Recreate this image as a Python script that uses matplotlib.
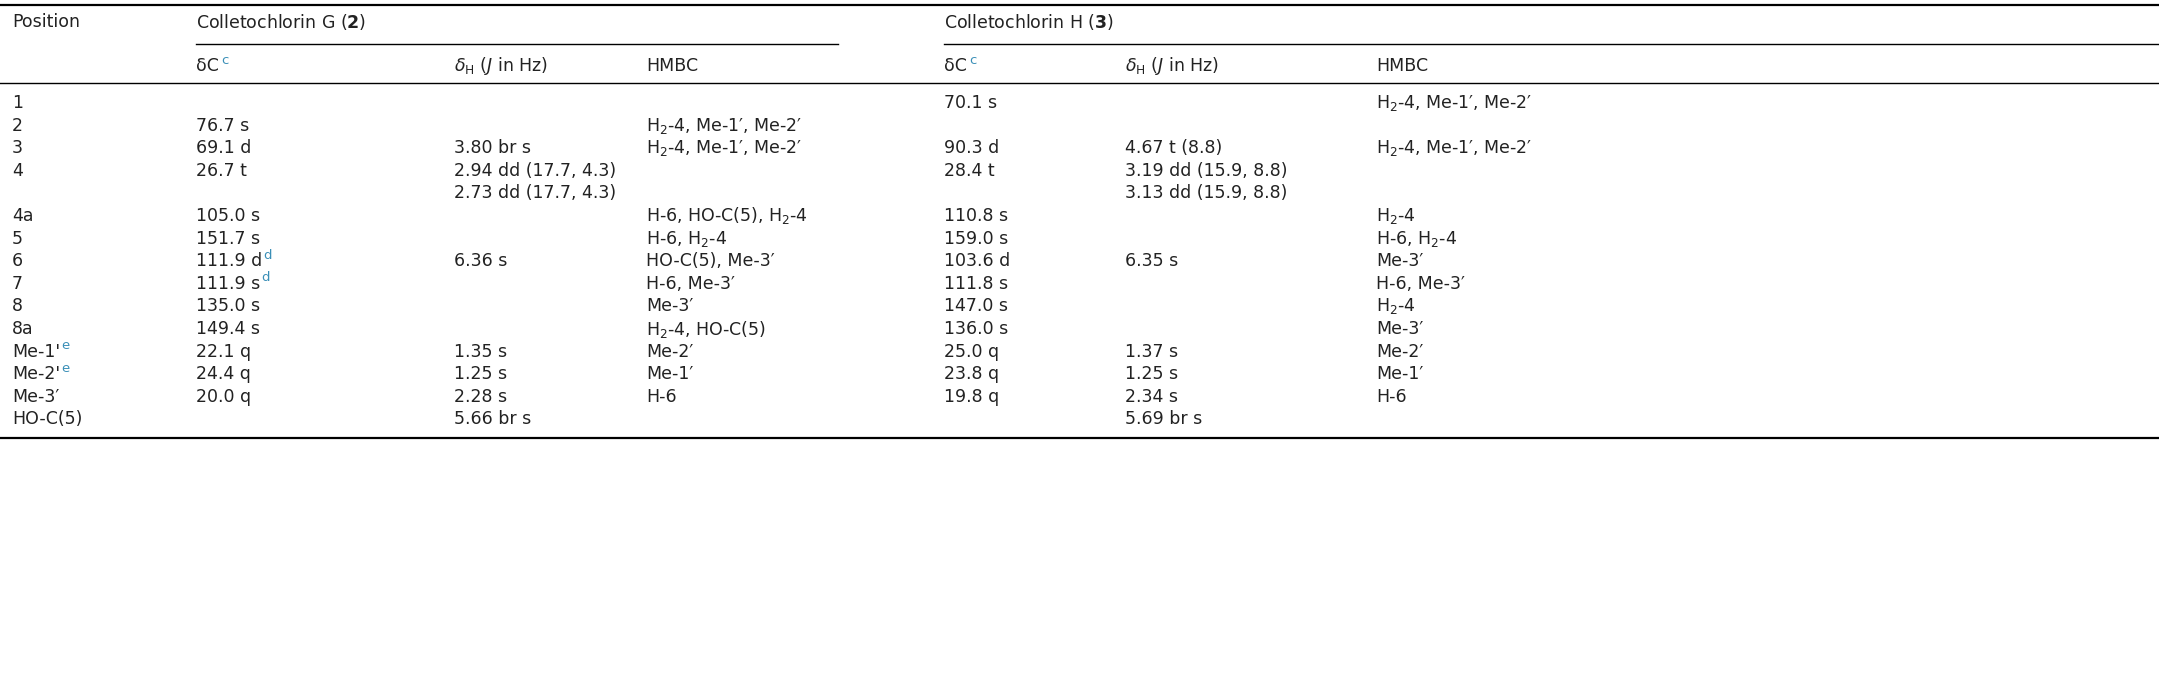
import matplotlib
matplotlib.use("Agg")
import matplotlib.pyplot as plt

positions = ["1","2","3","4","","4a","5","6","7","8","8a","Me-1'$^{e}$","Me-2'$^{e}$","Me-3′","HO-C(5)"]
g_dc = ["","76.7 s","69.1 d","26.7 t","","105.0 s","151.7 s","111.9 d$^{d}$","111.9 s$^{d}$","135.0 s","149.4 s","22.1 q","24.4 q","20.0 q",""]
g_dh = ["","","3.80 br s","2.94 dd (17.7, 4.3)","2.73 dd (17.7, 4.3)","","","6.36 s","","","","1.35 s","1.25 s","2.28 s","5.66 br s"]
g_hm = ["","H$_2$-4, Me-1′, Me-2′","H$_2$-4, Me-1′, Me-2′","","","H-6, HO-C(5), H$_2$-4","H-6, H$_2$-4","HO-C(5), Me-3′","H-6, Me-3′","Me-3′","H$_2$-4, HO-C(5)","Me-2′","Me-1′","H-6",""]
h_dc = ["70.1 s","","90.3 d","28.4 t","","110.8 s","159.0 s","103.6 d","111.8 s","147.0 s","136.0 s","25.0 q","23.8 q","19.8 q",""]
h_dh = ["","","4.67 t (8.8)","3.19 dd (15.9, 8.8)","3.13 dd (15.9, 8.8)","","","6.35 s","","","","1.37 s","1.25 s","2.34 s","5.69 br s"]
h_hm = ["H$_2$-4, Me-1′, Me-2′","","H$_2$-4, Me-1′, Me-2′","","","H$_2$-4","H-6, H$_2$-4","Me-3′","H-6, Me-3′","H$_2$-4","Me-3′","Me-2′","Me-1′","H-6",""]

W, H = 2159, 676
fig = plt.figure(figsize=(W/100, H/100), dpi=100)
ax = fig.add_axes([0, 0, 1, 1])
ax.set_xlim(0, W); ax.set_ylim(H, 0); ax.axis("off")
plt.rcParams['mathtext.fontset'] = 'dejavusans'
fs = 12.5
blue = "#3a8fb7"

def t(x, y, s, **kw):
    ax.text(x, y, s, fontsize=fs, va="center", ha="left", color="#222222", **kw)

def sup_fix(s):
    # colour footnote markers blue by splitting
    return s

ax.plot([0, W], [5, 5], color="black", lw=1.6)
ax.plot([196, 838], [44, 44], color="black", lw=1)
ax.plot([944, W], [44, 44], color="black", lw=1)
ax.plot([0, W], [83, 83], color="black", lw=1)
ax.plot([0, W], [438, 438], color="black", lw=1.6)

t(12, 22, "Position")
t(196, 22, r"Colletochlorin G ($\mathbf{2}$)")
t(944, 22, r"Colletochlorin H ($\mathbf{3}$)")
for x, hm in [(196, None), (944, None)]:
    t(x, 66, "δC")
    ax.text(x+25, 60, "c", fontsize=9.5, va="center", color=blue)
t(454, 66, r"$\delta_{\mathrm{H}}$ ($J$ in Hz)")
t(1125, 66, r"$\delta_{\mathrm{H}}$ ($J$ in Hz)")
t(646, 66, "HMBC")
t(1376, 66, "HMBC")

y0, dy = 103, 22.6
cols = [(12, positions), (196, g_dc), (454, g_dh), (646, g_hm), (944, h_dc), (1125, h_dh), (1376, h_hm)]
for i in range(len(positions)):
    y = y0 + i*dy
    for x, arr in cols:
        s = arr[i]
        if not s:
            continue
        if "$^{" in s:
            base, rest = s.split("$^{")
            mark = rest[0]
            txt = ax.text(x, y, base, fontsize=fs, va="center", ha="left", color="#222222")
            fig.canvas.draw()
            bb = txt.get_window_extent()
            ax.text(x + bb.width + 1, y - 6, mark, fontsize=9.5, va="center", ha="left", color=blue)
        else:
            t(x, y, s)

fig.savefig("out.png", dpi=100, facecolor="white")
